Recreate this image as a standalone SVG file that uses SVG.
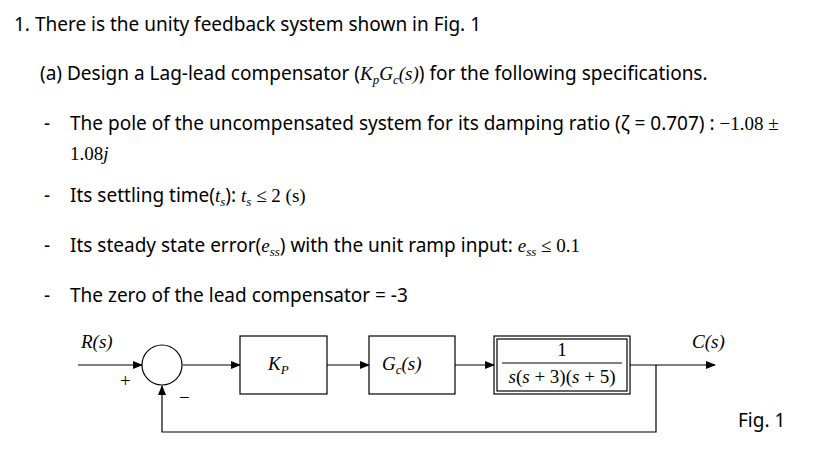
<svg xmlns="http://www.w3.org/2000/svg" width="814" height="456" viewBox="0 0 814 456">
<style>
.t{font-family:"Noto Sans","Liberation Sans",sans-serif;font-size:19px;fill:#000}
.m{font-family:"Liberation Serif",serif;font-size:19px;fill:#000}
.i{font-style:italic}
.b{fill:#fff;stroke:#000;stroke-width:1.2}
.l{fill:none;stroke:#000;stroke-width:1.2}
</style>
<defs><marker id="a" markerWidth="10" markerHeight="8" refX="9" refY="4" orient="auto" markerUnits="userSpaceOnUse"><path d="M0,0L10,4L0,8z"/></marker></defs>
<rect width="814" height="456" fill="#fff"/>
<text class="t" x="14" y="31">1.  There is the unity feedback system shown in Fig. 1</text>
<text class="t" x="40" y="80">(a) Design a Lag-lead compensator (<tspan class="m i">K<tspan font-size="13" dy="4">p</tspan><tspan dy="-4">G</tspan><tspan font-size="13" dy="4">c</tspan><tspan dy="-4">(s)</tspan></tspan>) for the following specifications.</text>
<text class="t" x="44" y="130">-</text>
<text class="t" x="70" y="130">The pole of the uncompensated system for its damping ratio (ζ = 0.707) : <tspan class="m">−1.08 ±</tspan></text>
<text class="m" x="70" y="160">1.08<tspan class="i">j</tspan></text>
<text class="t" x="44" y="202">-</text>
<text class="t" x="70" y="202">Its settling time(<tspan class="m i">t<tspan font-size="13" dy="4">s</tspan></tspan><tspan dy="-4">):  </tspan><tspan class="m"><tspan class="i">t<tspan font-size="13" dy="4">s</tspan></tspan><tspan dy="-4"> ≤ 2  (s)</tspan></tspan></text>
<text class="t" x="44" y="252">-</text>
<text class="t" x="70" y="252">Its steady state error(<tspan class="m i">e<tspan font-size="13" dy="4">ss</tspan></tspan><tspan dy="-4">) with the unit ramp input:  </tspan><tspan class="m"><tspan class="i">e<tspan font-size="13" dy="4">ss</tspan></tspan><tspan dy="-4"> ≤ 0.1</tspan></tspan></text>
<text class="t" x="44" y="302">-</text>
<text class="t" x="70" y="302">The zero of the lead compensator = -3</text>
<g id="connectors">
<line class="l" x1="78" y1="365" x2="142" y2="365" marker-end="url(#a)"/>
<line class="l" x1="183" y1="365" x2="240" y2="365" marker-end="url(#a)"/>
<line class="l" x1="327" y1="365" x2="369" y2="365" marker-end="url(#a)"/>
<line class="l" x1="455" y1="365" x2="494" y2="365" marker-end="url(#a)"/>
<line class="l" x1="630" y1="365" x2="715" y2="365" marker-end="url(#a)"/>
<polyline class="l" points="656,365 656,432 162,432 162,386" marker-end="url(#a)"/>
</g>
<g id="sum"><circle class="b" cx="162" cy="365" r="20"/></g>
<g id="kp"><rect class="b" x="240" y="336" width="87" height="58"/><text class="m i" x="268" y="370">K<tspan font-size="13" dy="4">P</tspan></text></g>
<g id="gc"><rect class="b" x="369" y="336" width="86" height="58"/><text class="m i" x="382" y="370">G<tspan font-size="13" dy="4">c</tspan><tspan dy="-4">(s)</tspan></text></g>
<g id="plant"><rect class="b" x="494" y="336" width="136" height="58"/><rect class="l" x="497" y="339" width="130" height="52"/><text class="m" x="562" y="356" text-anchor="middle">1</text><line class="l" x1="502" y1="363" x2="622" y2="363" stroke-width="0.8"/><text class="m" x="562" y="383" text-anchor="middle"><tspan class="i">s</tspan>(<tspan class="i">s</tspan> + 3)(<tspan class="i">s</tspan> + 5)</text></g>
<text class="m i" x="81" y="348">R(s)</text>
<text class="m i" x="692" y="348">C(s)</text>
<text class="m" x="120" y="387">+</text>
<text class="m" x="179" y="404">−</text>
<text class="t" x="738" y="427">Fig. 1</text>
</svg>
